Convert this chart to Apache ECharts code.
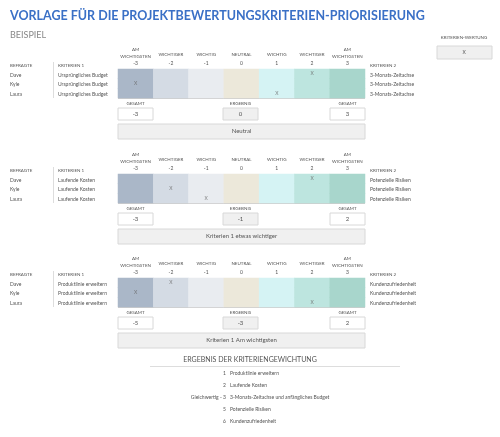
<!DOCTYPE html>
<html>
<head>
<meta charset="utf-8">
<script src="https://cdn.jsdelivr.net/npm/echarts@6/dist/echarts.min.js"></script>
<style>html,body{margin:0;padding:0;background:#fff}#main{width:500px;height:437px}</style>
</head>
<body>
<div id="main"></div>
<script>
var scale = ['-3', '-2', '-1', '0', '1', '2', '3'];
var scaleNames = ['AM\nWICHTIGSTEN', 'WICHTIGER', 'WICHTIG', 'NEUTRAL', 'WICHTIG', 'WICHTIGER', 'AM\nWICHTIGSTEN'];
var colColors = ['#aab7c8', '#d4dbe4', '#e9ecf0', '#ece8da', '#d5f3f4', '#bde5df', '#a8d6cc'];
var people = ['Dave', 'Kyle', 'Laura'];
var crit1 = ['Ursprüngliches Budget', 'Laufende Kosten', 'Produktlinie erweitern'];
var crit2 = ['3-Monats-Zeitachse', 'Potenzielle Risiken', 'Kundenzufriedenheit'];
// Bewertung je Befragtem (Dave, Kyle, Laura)
var marks = [[2, -3, 1], [2, -2, -1], [-2, -3, 2]];
var totalLeft = [-3, -3, -5];
var totalRight = [3, 2, 2];
var results = [0, -1, -3];
var verdicts = ['Neutral', 'Kriterien 1 etwas wichtiger', 'Kriterien 1 Am wichtigsten'];
var rankNums = ['1', '2', 'Gleichwertig - 3', '5', '6'];
var rankTexts = ['Produktlinie erweitern', 'Laufende Kosten', '3-Monats-Zeitachse und anfängliches Budget', 'Potenzielle Risiken', 'Kundenzufriedenheit'];

var font = 'Lato, "Open Sans", sans-serif';
var gray = '#555';
var tops = [69, 174, 278];
var gl = 118, gw = 247, gh = 29;

var grids = [], xAxes = [], yAxes = [], series = [], graphic = [];
function txt(x, y, s, size, opt) {
    opt = opt || {};
    graphic.push({type: 'text', x: x, y: y, style: {text: s, fontSize: size, fontFamily: font,
        fill: opt.fill || gray, fontWeight: opt.bold ? 'bold' : 'normal', align: opt.align || 'left',
        verticalAlign: 'middle', lineHeight: size + 2}});
}
function ctxt(cx, cy, s, size) {
    txt(cx, cy, s, size, {align: 'center'});
}
function box(x, y, w, h, fill) {
    graphic.push({type: 'rect', shape: {x: x, y: y, width: w, height: h},
        style: {fill: fill, stroke: '#d8d8d8', lineWidth: 1}});
}

txt(10, 16, 'VORLAGE FÜR DIE PROJEKTBEWERTUNGSKRITERIEN-PRIORISIERUNG', 12.5, {fill: '#3a70c6', bold: true});
txt(10, 35, 'BEISPIEL', 9, {fill: '#888'});
ctxt(464, 38, 'KRITERIEN-WERTUNG', 4.5);
box(437, 46, 55, 13, '#f0f0f0');
ctxt(464, 52.5, 'X', 5);

var seriesIdx = [];
tops.forEach(function (t, b) {
    grids.push({left: gl, top: t, width: gw, height: gh});
    xAxes.push({type: 'category', gridIndex: b, data: scale, position: 'top',
        axisLine: {show: false}, axisTick: {show: false},
        axisLabel: {fontSize: 5, color: gray, fontFamily: font, margin: 3}});
    yAxes.push({type: 'category', gridIndex: b, data: people, inverse: true, show: false});
    var heat = [], xs = [];
    scale.forEach(function (s, i) {
        people.forEach(function (p, j) { heat.push([i, j, i]); });
    });
    marks[b].forEach(function (m, j) { xs.push([scale.indexOf(String(m)), j]); });
    seriesIdx.push(series.length);
    series.push({type: 'heatmap', xAxisIndex: b, yAxisIndex: b, data: heat, itemStyle: {borderWidth: 0}});
    series.push({type: 'scatter', xAxisIndex: b, yAxisIndex: b, data: xs, symbolSize: 0,
        label: {show: true, position: 'inside', formatter: 'X', fontSize: 5, color: '#666', fontFamily: font}});
    graphic.push({type: 'line', shape: {x1: gl, y1: t + gh + 0.5, x2: gl + gw, y2: t + gh + 0.5}, style: {stroke: '#ccc', lineWidth: 1}});

    var cw = gw / 7;
    scaleNames.forEach(function (n, i) {
        ctxt(gl + cw * (i + 0.5), t - (n.indexOf('\n') >= 0 ? 16 : 14), n, 4.5);
    });
    txt(10, t - 3, 'BEFRAGTE', 4.5);
    txt(58, t - 3, 'KRITERIEN 1', 4.5);
    txt(370, t - 3, 'KRITERIEN 2', 4.5);
    graphic.push({type: 'line', shape: {x1: 53.5, y1: t - 7, x2: 53.5, y2: t + gh}, style: {stroke: '#ddd', lineWidth: 1}});
    people.forEach(function (p, j) {
        var y = t + 6 + j * 9.5;
        txt(10, y, p, 5);
        txt(58, y, crit1[b], 5);
        txt(370, y, crit2[b], 5);
    });
    var by = t + 39;
    ctxt(135.5, t + 35, 'GESAMT', 4.5);
    ctxt(240.5, t + 35, 'ERGEBNIS', 4.5);
    ctxt(347.5, t + 35, 'GESAMT', 4.5);
    box(118, by, 35, 12, '#fff'); ctxt(135.5, by + 6, String(totalLeft[b]), 6);
    box(223, by, 35, 12, '#f0f0f0'); ctxt(240.5, by + 6, String(results[b]), 6);
    box(330, by, 35, 12, '#fff'); ctxt(347.5, by + 6, String(totalRight[b]), 6);
    box(118, by + 16, 247, 15, '#f0f0f0'); ctxt(241.5, by + 23.5, verdicts[b], 6);
});

ctxt(250, 360, 'ERGEBNIS DER KRITERIENGEWICHTUNG', 7);
graphic.push({type: 'line', shape: {x1: 150, y1: 366.5, x2: 400, y2: 366.5}, style: {stroke: '#ddd', lineWidth: 1}});
rankNums.forEach(function (n, i) {
    var y = 373 + i * 12;
    txt(226, y, n, 5, {align: 'right'});
    txt(230, y, rankTexts[i], 5);
});

var chart = echarts.init(document.getElementById('main'));
chart.setOption({
    animation: false,
    visualMap: {type: 'piecewise', show: false, dimension: 2, seriesIndex: seriesIdx,
        pieces: colColors.map(function (c, i) { return {value: i, color: c}; })},
    grid: grids, xAxis: xAxes, yAxis: yAxes, series: series, graphic: graphic
});
</script>
</body>
</html>
